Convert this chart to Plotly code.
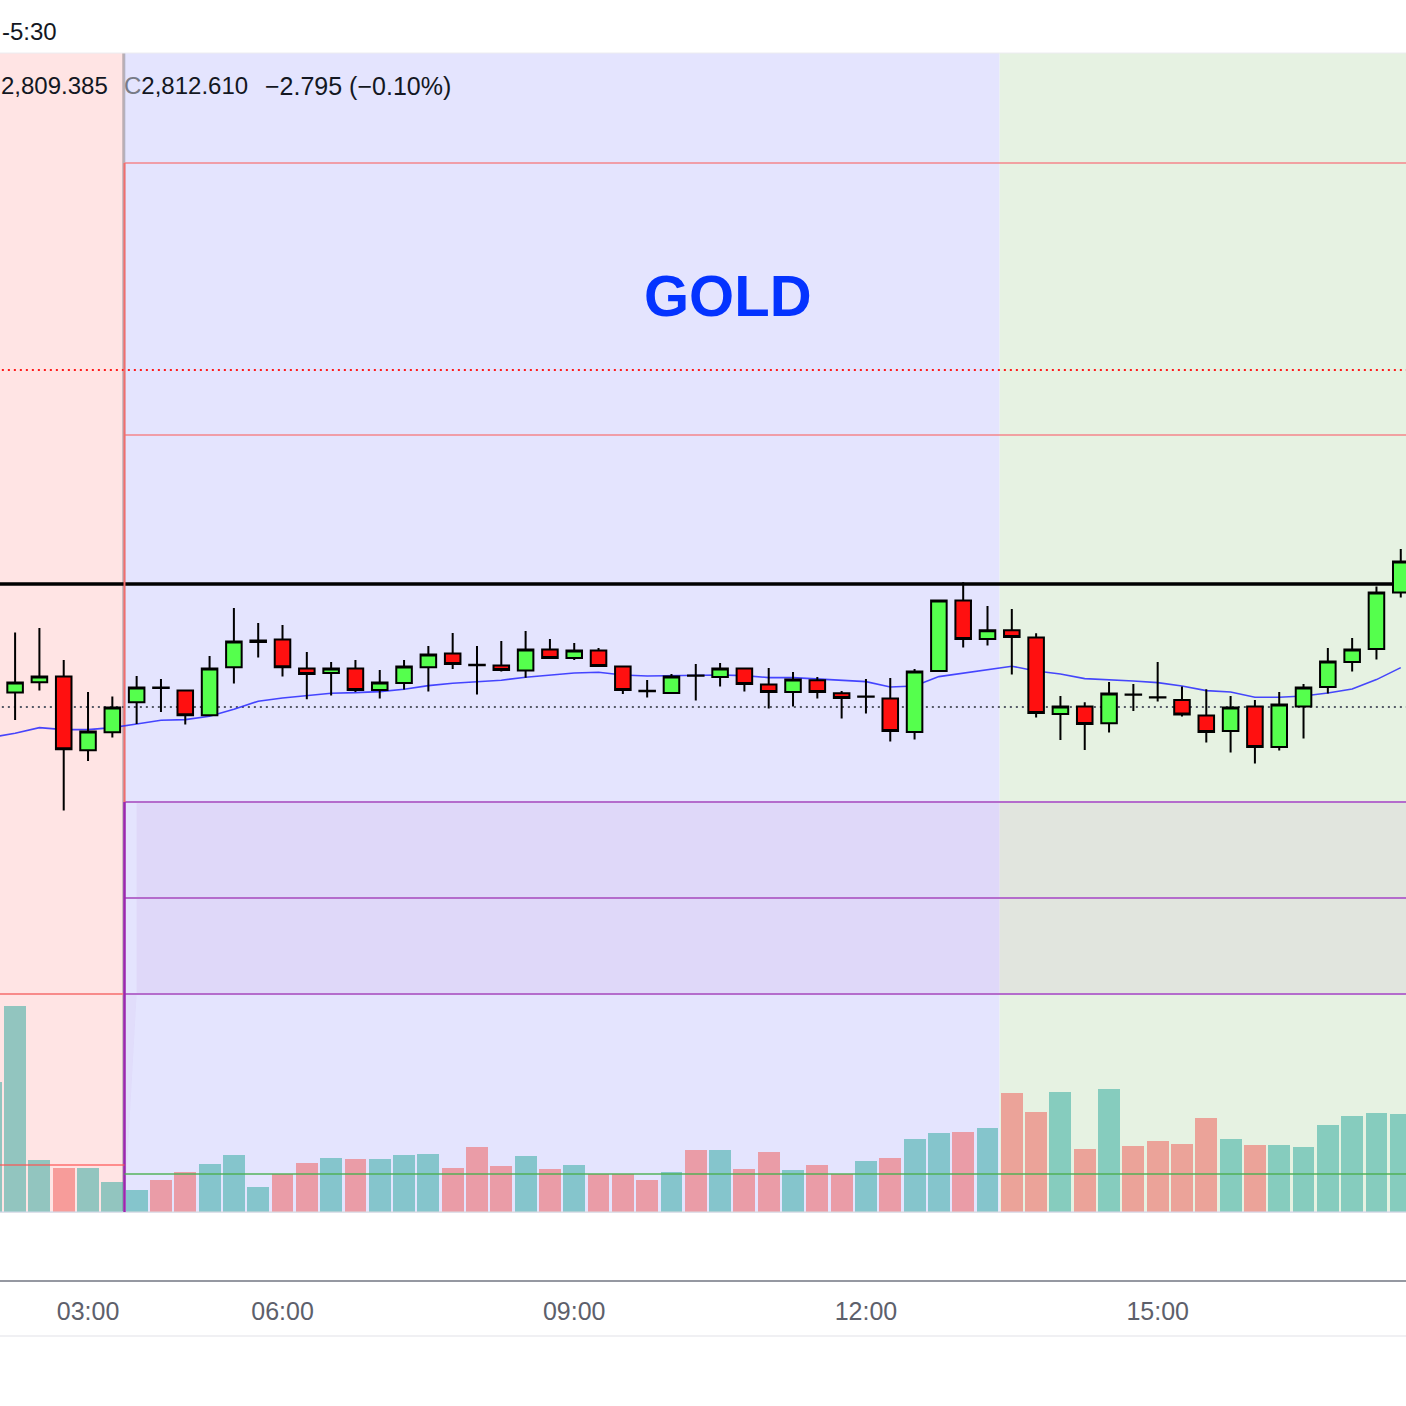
import plotly.graph_objects as go

# ---------------- data ----------------
times = ["02:00", "02:15", "02:30", "02:45", "03:00", "03:15",
         "04:30", "04:45", "05:00", "05:15", "05:30", "05:45",
         "06:00", "06:15", "06:30", "06:45", "07:00", "07:15", "07:30", "07:45",
         "08:00", "08:15", "08:30", "08:45", "09:00", "09:15", "09:30", "09:45",
         "10:00", "10:15", "10:30", "10:45", "11:00", "11:15", "11:30", "11:45",
         "12:00", "12:15", "12:30", "12:45", "13:00", "13:15", "13:30", "13:45",
         "14:00", "14:15", "14:30", "14:45", "15:00", "15:15", "15:30", "15:45",
         "16:00", "16:15", "16:30", "16:45", "17:00", "17:15", "17:30"]

# candles from 02:15 onward
opens = [2815.38, 2815.89, 2816.17, 2812.49, 2813.39, 2814.89, 2815.63, 2815.47, 2814.24, 2816.64,
         2817.90, 2818.02, 2816.57, 2816.35, 2816.57, 2815.50, 2815.85, 2816.64, 2817.32, 2816.76,
         2816.72, 2816.47, 2817.52, 2817.10, 2817.47, 2816.67, 2815.46, 2815.35, 2816.23, 2816.15,
         2816.57, 2815.77, 2815.40, 2815.99, 2815.34, 2815.16, 2815.07, 2813.40, 2816.45, 2819.97,
         2818.05, 2818.49, 2818.12, 2814.30, 2814.67, 2813.84, 2815.28, 2815.14, 2815.00, 2814.22,
         2813.45, 2814.67, 2812.65, 2814.67, 2815.65, 2816.90, 2817.55, 2820.37]
highs = [2818.37, 2818.60, 2817.00, 2815.40, 2815.17, 2816.20, 2816.05, 2815.47, 2817.20, 2819.60,
         2818.85, 2818.75, 2817.40, 2816.90, 2817.00, 2816.50, 2817.00, 2817.70, 2818.35, 2817.70,
         2817.95, 2818.45, 2818.05, 2817.85, 2817.60, 2816.67, 2816.00, 2816.30, 2816.80, 2816.85,
         2816.57, 2816.60, 2816.40, 2816.15, 2815.45, 2816.05, 2816.10, 2816.55, 2819.97, 2820.89,
         2819.70, 2819.55, 2818.34, 2815.20, 2814.89, 2815.90, 2815.80, 2816.90, 2815.67, 2815.54,
         2815.20, 2815.00, 2815.40, 2815.80, 2817.60, 2818.10, 2820.67, 2822.55]
lows = [2814.00, 2815.47, 2809.47, 2811.95, 2813.12, 2813.80, 2814.40, 2813.77, 2814.24, 2815.82,
        2817.12, 2816.17, 2815.04, 2815.22, 2815.40, 2815.07, 2815.52, 2815.42, 2816.55, 2815.27,
        2816.42, 2816.11, 2817.10, 2817.00, 2816.70, 2815.30, 2815.12, 2815.35, 2814.97, 2815.67,
        2815.42, 2814.57, 2814.67, 2815.07, 2814.07, 2814.32, 2812.92, 2813.02, 2816.45, 2817.62,
        2817.72, 2816.27, 2814.12, 2813.00, 2812.50, 2813.37, 2814.45, 2814.92, 2814.17, 2812.87,
        2812.37, 2811.82, 2812.47, 2813.07, 2815.32, 2816.42, 2817.02, 2820.12]
closes = [2815.87, 2816.17, 2812.54, 2813.42, 2814.62, 2815.62, 2815.60, 2814.24, 2816.57, 2817.92,
          2817.97, 2816.64, 2816.30, 2816.57, 2815.50, 2815.87, 2816.67, 2817.27, 2816.80, 2816.74,
          2816.50, 2817.52, 2817.10, 2817.47, 2816.70, 2815.50, 2815.44, 2816.17, 2816.21, 2816.57,
          2815.80, 2815.40, 2816.02, 2815.40, 2815.10, 2815.18, 2813.45, 2816.42, 2819.97, 2818.05,
          2818.49, 2818.15, 2814.35, 2814.67, 2813.80, 2815.32, 2815.26, 2815.12, 2814.27, 2813.40,
          2814.62, 2812.65, 2814.77, 2815.62, 2816.92, 2817.52, 2820.37, 2821.92]

# moving average (from 02:00)
ma_values = [2813.12, 2813.34, 2813.62, 2813.52, 2813.52, 2813.62, 2813.80, 2813.99, 2814.02, 2814.19,
             2814.54, 2814.94, 2815.10, 2815.22, 2815.34, 2815.37, 2815.42, 2815.54, 2815.72, 2815.84,
             2815.90, 2815.99, 2816.14, 2816.25, 2816.35, 2816.39, 2816.25, 2816.20, 2816.22, 2816.22,
             2816.25, 2816.22, 2816.12, 2816.12, 2816.05, 2815.99, 2815.92, 2815.65, 2815.70, 2816.17,
             2816.34, 2816.52, 2816.69, 2816.45, 2816.30, 2816.07, 2816.02, 2815.95, 2815.87, 2815.70,
             2815.47, 2815.40, 2815.14, 2815.14, 2815.20, 2815.35, 2815.55, 2816.02, 2816.62]

# volume (from 02:00)
volumes = [1300, 2055, 515, 435, 435, 295, 215, 315, 395, 475, 565, 245, 375, 485, 535, 525, 525, 565,
           575, 435, 645, 455, 555, 425, 465, 375, 375, 315, 395, 615, 615, 425, 595, 415, 465, 375,
           505, 535, 725, 785, 795, 835, 1185, 995, 1195, 625, 1225, 655, 705, 675, 935, 725, 665,
           665, 645, 865, 955, 985, 975]
first_bar_up = True

# volume moving averages per session
vol_ma_asia = 465
vol_ma_day = 375

# price levels
level_r2 = 2841.85
level_r1 = 2828.25
level_red_dotted = 2831.50
level_black = 2820.80
level_prev_close = 2814.65
level_p1 = 2809.90
level_p2 = 2805.10
level_p3 = 2800.30

tick_labels = ["03:00", "06:00", "09:00", "12:00", "15:00"]

# ---------------- figure ----------------
x_all = list(range(len(times)))
x_c = x_all[1:]
up = [first_bar_up] + [c >= o for o, c in zip(opens, closes)]
vol_colors = ["rgba(38,166,154,0.5)" if u else "rgba(239,83,80,0.5)" for u in up]

W, H = 1406, 1406
TOP, BOT = 53, 1280           # plot area in pixels
PH = BOT - TOP
PX_PER_PRICE = 20.0
y_top_price = level_prev_close + (707 - TOP) / PX_PER_PRICE
y_bot_price = level_prev_close - (BOT - 707) / PX_PER_PRICE
PANE_BOTTOM = 1211.5
vol_dom0 = (BOT - PANE_BOTTOM) / PH
vol_top = (PANE_BOTTOM - TOP) * 10
pane_paper = (BOT - 1212) / PH
pane_bottom_price = y_top_price - (1212 - TOP) / PX_PER_PRICE


def py(ypx):
    return (BOT - ypx) / PH


x_session1 = 5.5   # boundary 03:15 | 04:30
x_session2 = 41.5  # boundary 13:15 | 13:30
XL, XR = -3, 62

fig = go.Figure()

fig.add_trace(go.Bar(x=x_all, y=volumes, marker=dict(color=vol_colors, line=dict(width=0)),
                     width=0.9, xaxis="x", yaxis="y2", showlegend=False, hoverinfo="skip"))
fig.add_trace(go.Scatter(x=x_all, y=ma_values, mode="lines", xaxis="x", yaxis="y",
                         line=dict(color="rgba(40,40,255,0.85)", width=1.6),
                         showlegend=False, hoverinfo="skip"))
fig.add_trace(go.Candlestick(x=x_c, open=opens, high=highs, low=lows, close=closes,
                             xaxis="x", yaxis="y3", whiskerwidth=0,
                             increasing=dict(line=dict(color="#000000", width=2), fillcolor="#55ff4d"),
                             decreasing=dict(line=dict(color="#000000", width=2), fillcolor="#ff1010"),
                             showlegend=False, hoverinfo="skip"))

shapes = []
# session backgrounds
for x0, x1, col in [(XL, x_session1, "#ffe4e4"), (x_session1, x_session2, "#e4e4fe"), (x_session2, XR, "#e6f2e2")]:
    shapes.append(dict(type="rect", xref="x", yref="paper", x0=x0, x1=x1, y0=pane_paper, y1=1,
                       fillcolor=col, line=dict(width=0), layer="below"))
# crosshair / session vertical gray
shapes.append(dict(type="line", xref="x", yref="paper", x0=x_session1 - 0.03, x1=x_session1 - 0.03,
                   y0=pane_paper, y1=1, line=dict(color="rgba(120,120,130,0.5)", width=3), layer="below"))
# pane bottom and top borders
shapes.append(dict(type="line", xref="paper", yref="paper", x0=0, x1=1, y0=pane_paper, y1=pane_paper,
                   line=dict(color="#dfe0ea", width=2), layer="below"))
shapes.append(dict(type="line", xref="paper", yref="paper", x0=0, x1=1, y0=1, y1=1,
                   line=dict(color="#ececf0", width=1), layer="below"))
shapes.append(dict(type="line", xref="paper", yref="paper", x0=0, x1=1, y0=py(1336), y1=py(1336),
                   line=dict(color="#f0f0f3", width=2), layer="below"))
# band shading
shapes.append(dict(type="rect", xref="x", yref="y", x0=6.0, x1=XR, y0=level_p3, y1=level_p1,
                   fillcolor="rgba(156,39,176,0.06)", line=dict(width=0), layer="below"))
shapes.append(dict(type="path", xref="x", yref="y",
                   path=f"M {x_session1},{level_p3} L 6.0,{level_p3} L {x_session1},{pane_bottom_price} Z",
                   fillcolor="rgba(156,39,176,0.04)", line=dict(width=0), layer="below"))
# levels
for lv in [level_r2, level_r1]:
    shapes.append(dict(type="line", xref="x", yref="y", x0=x_session1, x1=XR, y0=lv, y1=lv,
                       line=dict(color="#f4868b", width=1.5), layer="below"))
shapes.append(dict(type="line", xref="x", yref="y", x0=XL, x1=XR, y0=level_red_dotted, y1=level_red_dotted,
                   line=dict(color="#ff1a1a", width=2, dash="2px,4px"), layer="below"))
shapes.append(dict(type="line", xref="x", yref="y", x0=XL, x1=XR, y0=level_prev_close, y1=level_prev_close,
                   line=dict(color="#555a66", width=2, dash="2px,4px"), layer="below"))
for lv in [level_p1, level_p2, level_p3]:
    shapes.append(dict(type="line", xref="x", yref="y", x0=x_session1, x1=XR, y0=lv, y1=lv,
                       line=dict(color="#b46ccc", width=2), layer="below"))
shapes.append(dict(type="line", xref="x", yref="y", x0=XL, x1=x_session1, y0=level_p3, y1=level_p3,
                   line=dict(color="#f88a8a", width=2), layer="below"))
shapes.append(dict(type="line", xref="x", yref="y", x0=XL, x1=XR, y0=level_black, y1=level_black,
                   line=dict(color="#000000", width=3.5), layer="below"))
# vertical session lines
shapes.append(dict(type="line", xref="x", yref="y", x0=x_session1, x1=x_session1, y0=level_p1, y1=level_r2,
                   line=dict(color="#f26d6d", width=2), layer="below"))
shapes.append(dict(type="line", xref="x", yref="y", x0=x_session1, x1=x_session1, y0=pane_bottom_price, y1=level_p1,
                   line=dict(color="#9c27b0", width=2.5), layer="below"))
# volume MAs
shapes.append(dict(type="line", xref="x", yref="y2", x0=XL, x1=x_session1, y0=vol_ma_asia, y1=vol_ma_asia,
                   line=dict(color="rgba(255,82,82,0.6)", width=2), layer="above"))
shapes.append(dict(type="line", xref="x", yref="y2", x0=x_session1, x1=XR, y0=vol_ma_day, y1=vol_ma_day,
                   line=dict(color="rgba(76,175,80,0.7)", width=2), layer="above"))

FONT = "Liberation Sans, Arial, Helvetica, sans-serif"
annotations = [
    dict(text="-5:30", x=0, y=py(32), xref="paper", yref="paper", xanchor="left", yanchor="middle",
         showarrow=False, font=dict(family=FONT, size=24, color="#131722")),
    dict(text="2,809.385", x=-1 / W, y=py(86), xref="paper", yref="paper", xanchor="left", yanchor="middle",
         showarrow=False, font=dict(family=FONT, size=24, color="#131722")),
    dict(text="<span style='color:#787b86'>C</span>2,812.610", x=122 / W, y=py(86), xref="paper", yref="paper",
         xanchor="left", yanchor="middle", showarrow=False, font=dict(family=FONT, size=24, color="#131722")),
    dict(text="\u22122.795 (\u22120.10%)", x=263 / W, y=py(86), xref="paper", yref="paper",
         xanchor="left", yanchor="middle", showarrow=False, font=dict(family=FONT, size=25, color="#131722")),
    dict(text="<b>GOLD</b>", x=727.5 / W, y=py(295), xref="paper", yref="paper",
         xanchor="center", yanchor="middle", showarrow=False, font=dict(family=FONT, size=58, color="#0433ff")),
]

x0_px = 15.1 - (1 * 24.31)  # pixel of list index 0 (02:00)
xmin = 0 - (x0_px - 0) / 24.31
xmax = xmin + W / 24.31

fig.update_layout(
    width=W, height=H,
    margin=dict(l=0, r=0, t=TOP, b=H - BOT, pad=0),
    paper_bgcolor="#ffffff", plot_bgcolor="rgba(0,0,0,0)",
    showlegend=False,
    boxgap=0.36, boxgroupgap=0,
    bargap=0,
    xaxis=dict(range=[xmin, xmax], anchor="y", showgrid=False, zeroline=False,
               showline=True, linecolor="#9598a1", linewidth=2,
               tickmode="array", tickvals=[times.index(t) for t in tick_labels], ticktext=tick_labels,
               ticks="outside", ticklen=8, tickcolor="rgba(0,0,0,0)",
               tickfont=dict(family=FONT, size=25, color="#5d606b"),
               rangeslider=dict(visible=False), fixedrange=True),
    yaxis=dict(range=[y_bot_price, y_top_price], domain=[0, 1], anchor="x", showgrid=False, zeroline=False,
               showticklabels=False, showline=False, ticks="", fixedrange=True),
    yaxis3=dict(range=[y_bot_price, y_top_price], overlaying="y", anchor="x", showgrid=False, zeroline=False,
                showticklabels=False, showline=False, ticks="", fixedrange=True),
    yaxis2=dict(range=[0, vol_top], domain=[vol_dom0, 1], anchor="x", showgrid=False, zeroline=False,
                showticklabels=False, showline=False, ticks="", fixedrange=True),
    shapes=shapes,
    annotations=annotations,
)

fig.write_html("out.html", config={"displayModeBar": False},
               post_script="document.documentElement.style.margin='0';document.body.style.margin='0';"
                           "document.body.style.padding='0';document.body.style.overflow='hidden';")
